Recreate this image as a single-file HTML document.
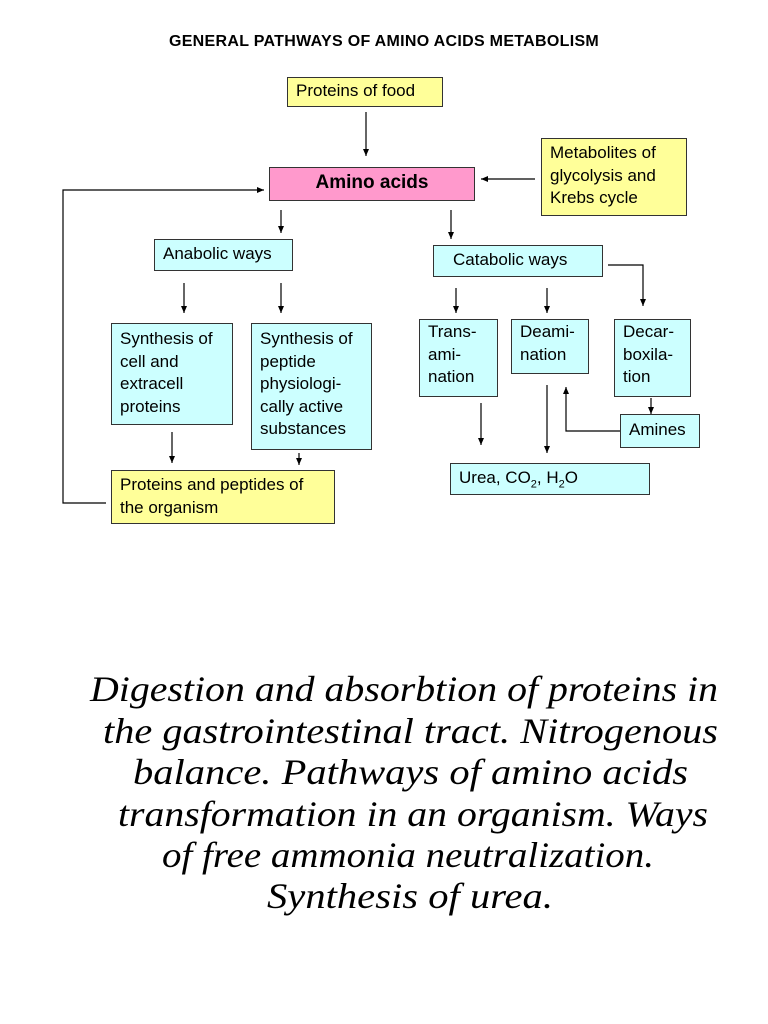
<!DOCTYPE html>
<html><head><meta charset="utf-8"><style>
body{margin:0;width:768px;height:1024px;background:#fff;position:relative;overflow:hidden;font-family:"Liberation Sans",Arial,sans-serif;}
.b{position:absolute;box-sizing:border-box;border:1px solid #333;font-size:17px;line-height:22.6px;padding:4px 8px;color:#000;white-space:nowrap;}
.y{background:#ffff99;}.c{background:#ccffff;}
.t{position:absolute;left:0;width:768px;top:33px;text-align:center;font-weight:bold;font-size:16px;letter-spacing:0.3px;}
svg{position:absolute;left:0;top:0;}
</style></head><body>
<div class="t">GENERAL PATHWAYS OF AMINO ACIDS METABOLISM</div>
<svg width="768" height="1024">
<defs><marker id="a" markerWidth="8" markerHeight="8" refX="7" refY="4" orient="auto" markerUnits="userSpaceOnUse"><path d="M0,1 L7,4 L0,7 z" fill="#000"/></marker></defs>
<g stroke="#000" stroke-width="1.2" fill="none" marker-end="url(#a)">
<line x1="366" y1="112" x2="366" y2="156"/>
<line x1="535" y1="179" x2="481" y2="179"/>
<polyline points="106,503 63,503 63,190 264,190"/>
<line x1="281" y1="210" x2="281" y2="233"/>
<line x1="451" y1="210" x2="451" y2="239"/>
<line x1="184" y1="283" x2="184" y2="313"/>
<line x1="281" y1="283" x2="281" y2="313"/>
<line x1="456" y1="288" x2="456" y2="313"/>
<line x1="547" y1="288" x2="547" y2="313"/>
<polyline points="608,265 643,265 643,306"/>
<line x1="172" y1="432" x2="172" y2="463"/>
<line x1="299" y1="453" x2="299" y2="465"/>
<line x1="481" y1="403" x2="481" y2="445"/>
<line x1="547" y1="385" x2="547" y2="453"/>
<polyline points="620,431 566,431 566,387"/>
<line x1="651" y1="398" x2="651" y2="414"/>
</g>
<g font-family="Liberation Serif, serif" font-style="italic" font-size="36" fill="#000">
<text x="90" y="701" textLength="628" lengthAdjust="spacingAndGlyphs">Digestion and absorbtion of proteins in</text>
<text x="103" y="743" textLength="615" lengthAdjust="spacingAndGlyphs">the gastrointestinal tract. Nitrogenous</text>
<text x="133" y="784" textLength="555" lengthAdjust="spacingAndGlyphs">balance. Pathways of  amino acids</text>
<text x="118" y="826" textLength="590" lengthAdjust="spacingAndGlyphs">transformation in an organism. Ways</text>
<text x="162" y="867" textLength="492" lengthAdjust="spacingAndGlyphs">of free ammonia neutralization.</text>
<text x="267" y="908" textLength="286" lengthAdjust="spacingAndGlyphs">Synthesis of urea.</text>
</g>
</svg>
<div class="b y" style="left:287px;top:77px;width:156px;height:30px;padding-top:2px">Proteins of food</div>
<div class="b" style="left:269px;top:167px;width:206px;height:34px;background:#ff99cc;text-align:center;font-weight:bold;font-size:19px;padding-top:4px">Amino acids</div>
<div class="b y" style="left:541px;top:138px;width:146px;height:78px;padding-top:3px">Metabolites of<br>glycolysis and<br>Krebs cycle</div>
<div class="b c" style="left:154px;top:239px;width:139px;height:32px;padding-top:3px">Anabolic ways</div>
<div class="b c" style="left:433px;top:245px;width:170px;height:32px;padding:3px 0 0 19px">Catabolic ways</div>
<div class="b c" style="left:111px;top:323px;width:122px;height:102px">Synthesis of<br>cell and<br>extracell<br>proteins</div>
<div class="b c" style="left:251px;top:323px;width:121px;height:127px">Synthesis of<br>peptide<br>physiologi-<br>cally active<br>substances</div>
<div class="b c" style="left:419px;top:319px;width:79px;height:78px;padding-top:1px">Trans-<br>ami-<br>nation</div>
<div class="b c" style="left:511px;top:319px;width:78px;height:55px;padding-top:1px">Deami-<br>nation</div>
<div class="b c" style="left:614px;top:319px;width:77px;height:78px;padding-top:1px">Decar-<br>boxila-<br>tion</div>
<div class="b c" style="left:620px;top:414px;width:80px;height:34px;padding-top:4px">Amines</div>
<div class="b c" style="left:450px;top:463px;width:200px;height:32px;padding-top:3px">Urea, CO<sub style="font-size:11px;line-height:0">2</sub>, H<sub style="font-size:11px;line-height:0">2</sub>O</div>
<div class="b y" style="left:111px;top:470px;width:224px;height:54px;padding-top:3px">Proteins and peptides of<br>the organism</div>
</body></html>
